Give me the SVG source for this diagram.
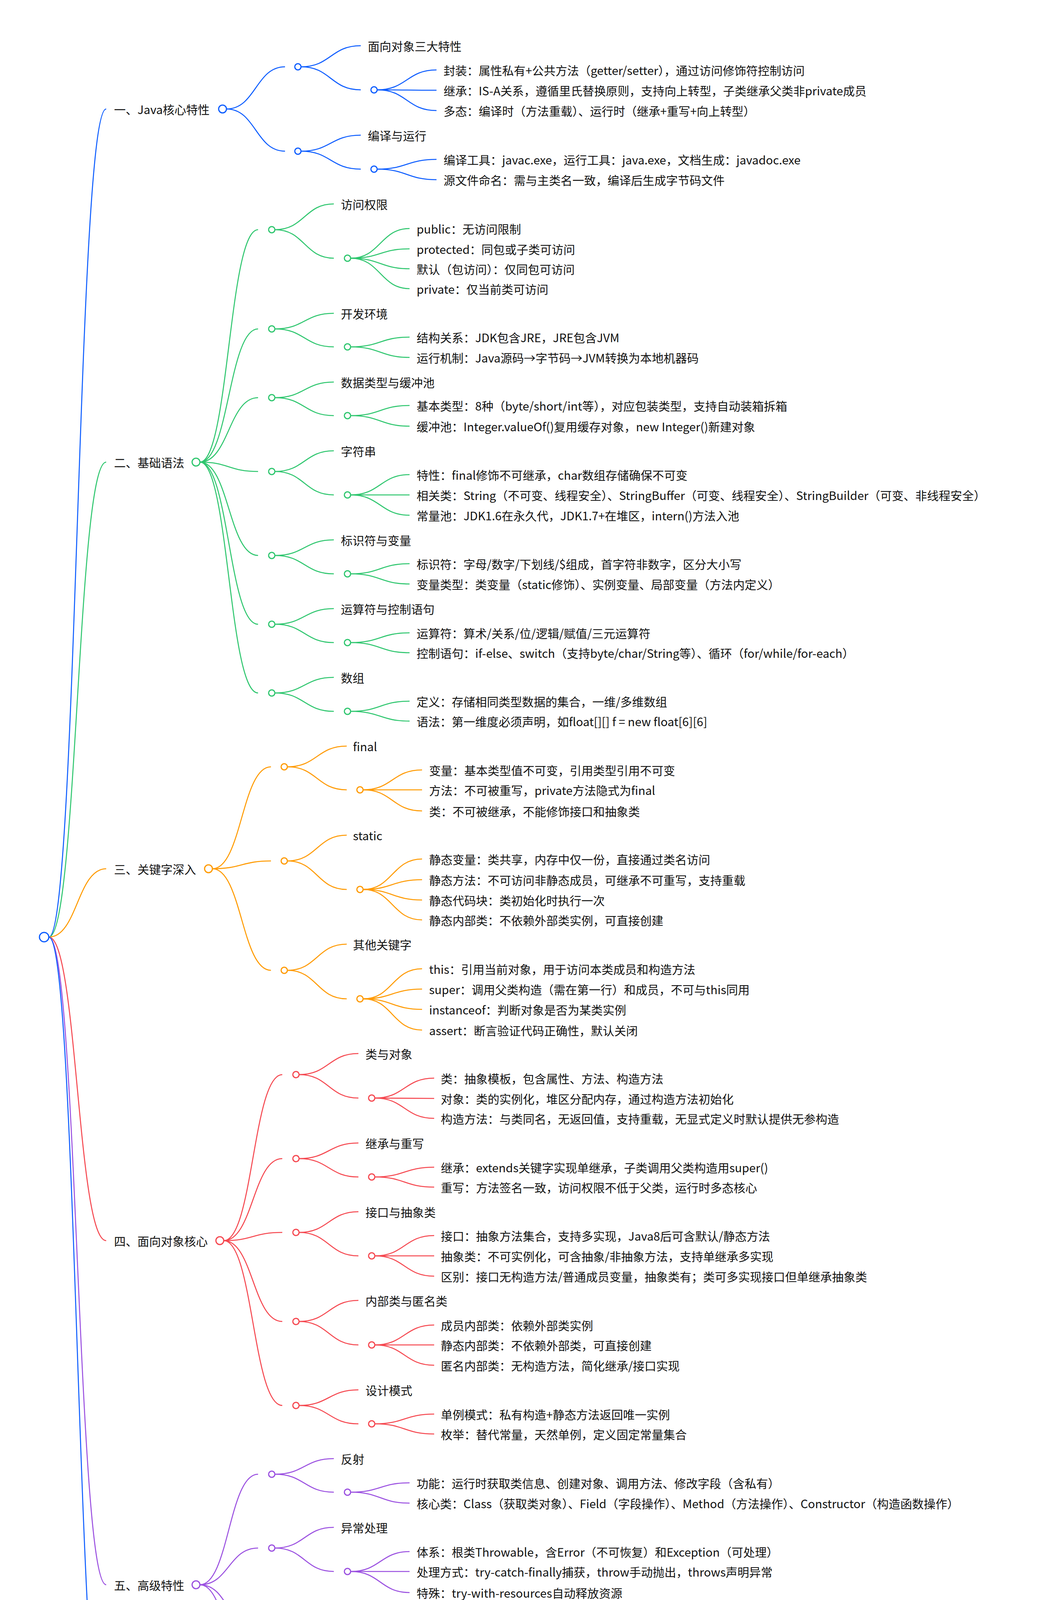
<svg xmlns="http://www.w3.org/2000/svg" width="2720" height="4866" viewBox="0 0 2720 4866">
<style>
text{font-family:"Noto Sans CJK SC","Noto Sans",sans-serif;font-size:30px;fill:#111;dominant-baseline:central}
path{fill:none;stroke-width:2.6}
circle{fill:#fff;stroke-width:3}
.cb{stroke:#0b5cff}.cg{stroke:#2ec66e}.co{stroke:#ff9a00}.cr{stroke:#f5474f}.cp{stroke:#9a4fe0}
</style>
<rect width="2720" height="4866" fill="#fff"/>
<g id="connectors">
<!-- root -->
<path class="cb" d="M125 2399 C198 2399 198 279 272 279"/>
<path class="cg" d="M125 2399 C198 2399 198 1183 272 1183"/>
<path class="co" d="M125 2399 C198 2399 198 2224 272 2224"/>
<path class="cr" d="M125 2399 C198 2399 198 3176 272 3176"/>
<path class="cp" d="M125 2399 C198 2399 198 4057 272 4057"/>
<path class="cb" d="M125 2399 C198 2399 198 4522 272 4522"/>
<!-- branch 1 -->
<path class="cb" d="M580 279 C655 279 655 171 730 171"/>
<path class="cb" d="M580 279 C655 279 655 387 730 387"/>
<path class="cb" d="M771 171 C847 171 847 117 924 117"/>
<path class="cb" d="M771 171 C847 171 847 230 924 230"/>
<path class="cb" d="M771 387 C847 387 847 346 924 346"/>
<path class="cb" d="M771 387 C847 387 847 433 924 433"/>
<path class="cb" d="M966 230 C1042 230 1042 179 1118 179"/>
<path class="cb" d="M966 230 C1042 230 1042 231 1118 231"/>
<path class="cb" d="M966 230 C1042 230 1042 283 1118 283"/>
<path class="cb" d="M966 433 C1042 433 1042 408 1118 408"/>
<path class="cb" d="M966 433 C1042 433 1042 460 1118 460"/>
<!-- branch 2 -->
<path class="cg" d="M512 1183 C586 1183 586 588 661 588"/>
<path class="cg" d="M512 1183 C586 1183 586 842 661 842"/>
<path class="cg" d="M512 1183 C586 1183 586 1018 661 1018"/>
<path class="cg" d="M512 1183 C586 1183 586 1207 661 1207"/>
<path class="cg" d="M512 1183 C586 1183 586 1422 661 1422"/>
<path class="cg" d="M512 1183 C586 1183 586 1598 661 1598"/>
<path class="cg" d="M512 1183 C586 1183 586 1774 661 1774"/>
<path class="cg" d="M704 588 C780 588 780 522 855 522"/><path class="cg" d="M704 588 C780 588 780 661 855 661"/>
<path class="cg" d="M704 842 C780 842 780 802 855 802"/><path class="cg" d="M704 842 C780 842 780 888 855 888"/>
<path class="cg" d="M704 1018 C780 1018 780 978 855 978"/><path class="cg" d="M704 1018 C780 1018 780 1064 855 1064"/>
<path class="cg" d="M704 1207 C780 1207 780 1154 855 1154"/><path class="cg" d="M704 1207 C780 1207 780 1267 855 1267"/>
<path class="cg" d="M704 1422 C780 1422 780 1382 855 1382"/><path class="cg" d="M704 1422 C780 1422 780 1469 855 1469"/>
<path class="cg" d="M704 1598 C780 1598 780 1558 855 1558"/><path class="cg" d="M704 1598 C780 1598 780 1645 855 1645"/>
<path class="cg" d="M704 1774 C780 1774 780 1734 855 1734"/><path class="cg" d="M704 1774 C780 1774 780 1821 855 1821"/>
<path class="cg" d="M898 661 C974 661 974 585 1049 585"/><path class="cg" d="M898 661 C974 661 974 637 1049 637"/><path class="cg" d="M898 661 C974 661 974 688 1049 688"/><path class="cg" d="M898 661 C974 661 974 739 1049 739"/>
<path class="cg" d="M898 888 C974 888 974 863 1049 863"/><path class="cg" d="M898 888 C974 888 974 915 1049 915"/>
<path class="cg" d="M898 1064 C974 1064 974 1038 1049 1038"/><path class="cg" d="M898 1064 C974 1064 974 1091 1049 1091"/>
<path class="cg" d="M898 1267 C974 1267 974 1215 1049 1215"/><path class="cg" d="M898 1267 L1049 1267"/><path class="cg" d="M898 1267 C974 1267 974 1319 1049 1319"/>
<path class="cg" d="M898 1469 C974 1469 974 1443 1049 1443"/><path class="cg" d="M898 1469 C974 1469 974 1495 1049 1495"/>
<path class="cg" d="M898 1645 C974 1645 974 1620 1049 1620"/><path class="cg" d="M898 1645 C974 1645 974 1671 1049 1671"/>
<path class="cg" d="M898 1821 C974 1821 974 1795 1049 1795"/><path class="cg" d="M898 1821 C974 1821 974 1846 1049 1846"/>
<!-- branch 3 -->
<path class="co" d="M544 2224 C619 2224 619 1963 694 1963"/>
<path class="co" d="M544 2224 C619 2224 619 2204 694 2204"/>
<path class="co" d="M544 2224 C619 2224 619 2484 694 2484"/>
<path class="co" d="M736 1963 C812 1963 812 1910 888 1910"/><path class="co" d="M736 1963 C812 1963 812 2022 888 2022"/>
<path class="co" d="M736 2204 C812 2204 812 2138 888 2138"/><path class="co" d="M736 2204 C812 2204 812 2277 888 2277"/>
<path class="co" d="M736 2484 C812 2484 812 2417 888 2417"/><path class="co" d="M736 2484 C812 2484 812 2557 888 2557"/>
<path class="co" d="M930 2022 C1005 2022 1005 1971 1081 1971"/><path class="co" d="M930 2022 L1081 2022"/><path class="co" d="M930 2022 C1005 2022 1005 2076 1081 2076"/>
<path class="co" d="M930 2277 C1005 2277 1005 2199 1081 2199"/><path class="co" d="M930 2277 C1005 2277 1005 2252 1081 2252"/><path class="co" d="M930 2277 C1005 2277 1005 2304 1081 2304"/><path class="co" d="M930 2277 C1005 2277 1005 2355 1081 2355"/>
<path class="co" d="M930 2557 C1005 2557 1005 2480 1081 2480"/><path class="co" d="M930 2557 C1005 2557 1005 2532 1081 2532"/><path class="co" d="M930 2557 C1005 2557 1005 2584 1081 2584"/><path class="co" d="M930 2557 C1005 2557 1005 2637 1081 2637"/>
<!-- branch 4 -->
<path class="cr" d="M573 3176 C648 3176 648 2751 723 2751"/>
<path class="cr" d="M573 3176 C648 3176 648 2966 723 2966"/>
<path class="cr" d="M573 3176 C648 3176 648 3155 723 3155"/>
<path class="cr" d="M573 3176 C648 3176 648 3383 723 3383"/>
<path class="cr" d="M573 3176 C648 3176 648 3598 723 3598"/>
<path class="cr" d="M766 2751 C842 2751 842 2697 918 2697"/><path class="cr" d="M766 2751 C842 2751 842 2811 918 2811"/>
<path class="cr" d="M766 2966 C842 2966 842 2926 918 2926"/><path class="cr" d="M766 2966 C842 2966 842 3013 918 3013"/>
<path class="cr" d="M766 3155 C842 3155 842 3102 918 3102"/><path class="cr" d="M766 3155 C842 3155 842 3215 918 3215"/>
<path class="cr" d="M766 3383 C842 3383 842 3329 918 3329"/><path class="cr" d="M766 3383 C842 3383 842 3443 918 3443"/>
<path class="cr" d="M766 3598 C842 3598 842 3558 918 3558"/><path class="cr" d="M766 3598 C842 3598 842 3645 918 3645"/>
<path class="cr" d="M960 2811 C1036 2811 1036 2760 1112 2760"/><path class="cr" d="M960 2811 L1112 2812"/><path class="cr" d="M960 2811 C1036 2811 1036 2863 1112 2863"/>
<path class="cr" d="M960 3013 C1036 3013 1036 2988 1112 2988"/><path class="cr" d="M960 3013 C1036 3013 1036 3039 1112 3039"/>
<path class="cr" d="M960 3215 C1036 3215 1036 3163 1112 3163"/><path class="cr" d="M960 3215 L1112 3215"/><path class="cr" d="M960 3215 C1036 3215 1036 3267 1112 3267"/>
<path class="cr" d="M960 3443 C1036 3443 1036 3392 1112 3392"/><path class="cr" d="M960 3443 L1112 3443"/><path class="cr" d="M960 3443 C1036 3443 1036 3495 1112 3495"/>
<path class="cr" d="M960 3645 C1036 3645 1036 3620 1112 3620"/><path class="cr" d="M960 3645 C1036 3645 1036 3671 1112 3671"/>
<!-- branch 5 -->
<path class="cp" d="M512 4057 C586 4057 586 3774 661 3774"/>
<path class="cp" d="M512 4057 C586 4057 586 3963 661 3963"/>
<path class="cp" d="M512 4057 C586 4057 586 4178 661 4178"/>
<path class="cp" d="M512 4057 C586 4057 586 4338 661 4338"/>
<path class="cp" d="M704 3774 C780 3774 780 3734 855 3734"/><path class="cp" d="M704 3774 C780 3774 780 3820 855 3820"/>
<path class="cp" d="M704 3963 C780 3963 780 3910 855 3910"/><path class="cp" d="M704 3963 C780 3963 780 4023 855 4023"/>
<path class="cp" d="M704 4178 C780 4178 780 4137 855 4137"/><path class="cp" d="M704 4178 C780 4178 780 4225 855 4225"/>
<path class="cp" d="M704 4338 C780 4338 780 4312 855 4312"/><path class="cp" d="M704 4338 C780 4338 780 4366 855 4366"/>
<path class="cp" d="M898 3820 C974 3820 974 3796 1049 3796"/><path class="cp" d="M898 3820 C974 3820 974 3848 1049 3848"/>
<path class="cp" d="M898 4023 C974 4023 974 3972 1049 3972"/><path class="cp" d="M898 4023 L1049 4023"/><path class="cp" d="M898 4023 C974 4023 974 4077 1049 4077"/>
<path class="cp" d="M898 4225 C974 4225 974 4200 1049 4200"/><path class="cp" d="M898 4225 C974 4225 974 4252 1049 4252"/>
<!-- branch 6 -->
<path class="cb" d="M642 4522 C716 4522 716 4428 791 4428"/>
<path class="cb" d="M642 4522 C716 4522 716 4619 791 4619"/>
<path class="cb" d="M834 4619 C910 4619 910 4490 985 4490"/><path class="cb" d="M834 4619 C910 4619 910 4542 985 4542"/><path class="cb" d="M834 4619 C910 4619 910 4594 985 4594"/><path class="cb" d="M834 4619 C910 4619 910 4646 985 4646"/><path class="cb" d="M834 4619 C910 4619 910 4698 985 4698"/><path class="cb" d="M834 4619 C910 4619 910 4750 985 4750"/>
</g>

<g id="root"><circle class="cb" cx="113" cy="2399" r="12"/></g>

<g id="b1">
<text x="292" y="279">一、Java核心特性</text><circle class="cb" cx="570" cy="279" r="10"/>
<circle class="cb" cx="763" cy="171" r="8"/><circle class="cb" cx="763" cy="387" r="8"/>
<circle class="cb" cx="958" cy="230" r="8"/><circle class="cb" cx="958" cy="433" r="8"/>
<text x="942" y="117">面向对象三大特性</text>
<text x="1136" y="179">封装：属性私有+公共方法（getter/setter），通过访问修饰符控制访问</text>
<text x="1136" y="231">继承：IS-A关系，遵循里氏替换原则，支持向上转型，子类继承父类非private成员</text>
<text x="1136" y="283">多态：编译时（方法重载）、运行时（继承+重写+向上转型）</text>
<text x="942" y="346">编译与运行</text>
<text x="1136" y="408">编译工具：javac.exe，运行工具：java.exe，文档生成：javadoc.exe</text>
<text x="1136" y="460">源文件命名：需与主类名一致，编译后生成字节码文件</text>
</g>

<g id="b2">
<text x="292" y="1183">二、基础语法</text><circle class="cg" cx="502" cy="1183" r="10"/>
<circle class="cg" cx="696" cy="588" r="8"/><circle class="cg" cx="696" cy="842" r="8"/><circle class="cg" cx="696" cy="1018" r="8"/><circle class="cg" cx="696" cy="1207" r="8"/><circle class="cg" cx="696" cy="1422" r="8"/><circle class="cg" cx="696" cy="1598" r="8"/><circle class="cg" cx="696" cy="1774" r="8"/>
<circle class="cg" cx="890" cy="661" r="8"/><circle class="cg" cx="890" cy="888" r="8"/><circle class="cg" cx="890" cy="1064" r="8"/><circle class="cg" cx="890" cy="1267" r="8"/><circle class="cg" cx="890" cy="1469" r="8"/><circle class="cg" cx="890" cy="1645" r="8"/><circle class="cg" cx="890" cy="1821" r="8"/>
<text x="873" y="522">访问权限</text>
<text x="1067" y="585">public：无访问限制</text>
<text x="1067" y="637">protected：同包或子类可访问</text>
<text x="1067" y="688">默认（包访问）：仅同包可访问</text>
<text x="1067" y="739">private：仅当前类可访问</text>
<text x="873" y="802">开发环境</text>
<text x="1067" y="863">结构关系：JDK包含JRE，JRE包含JVM</text>
<text x="1067" y="915">运行机制：Java源码→字节码→JVM转换为本地机器码</text>
<text x="873" y="978">数据类型与缓冲池</text>
<text x="1067" y="1038">基本类型：8种（byte/short/int等），对应包装类型，支持自动装箱拆箱</text>
<text x="1067" y="1091">缓冲池：Integer.valueOf()复用缓存对象，new Integer()新建对象</text>
<text x="873" y="1154">字符串</text>
<text x="1067" y="1215">特性：final修饰不可继承，char数组存储确保不可变</text>
<text x="1067" y="1267">相关类：String（不可变、线程安全）、StringBuffer（可变、线程安全）、StringBuilder（可变、非线程安全）</text>
<text x="1067" y="1319">常量池：JDK1.6在永久代，JDK1.7+在堆区，intern()方法入池</text>
<text x="873" y="1382">标识符与变量</text>
<text x="1067" y="1443">标识符：字母/数字/下划线/$组成，首字符非数字，区分大小写</text>
<text x="1067" y="1495">变量类型：类变量（static修饰）、实例变量、局部变量（方法内定义）</text>
<text x="873" y="1558">运算符与控制语句</text>
<text x="1067" y="1620">运算符：算术/关系/位/逻辑/赋值/三元运算符</text>
<text x="1067" y="1671">控制语句：if-else、switch（支持byte/char/String等）、循环（for/while/for-each）</text>
<text x="873" y="1734">数组</text>
<text x="1067" y="1795">定义：存储相同类型数据的集合，一维/多维数组</text>
<text x="1067" y="1846">语法：第一维度必须声明，如float[][] f = new float[6][6]</text>
</g>

<g id="b3">
<text x="292" y="2224">三、关键字深入</text><circle class="co" cx="534" cy="2224" r="10"/>
<circle class="co" cx="728" cy="1963" r="8"/><circle class="co" cx="728" cy="2204" r="8"/><circle class="co" cx="728" cy="2484" r="8"/>
<circle class="co" cx="922" cy="2022" r="8"/><circle class="co" cx="922" cy="2277" r="8"/><circle class="co" cx="922" cy="2557" r="8"/>
<text x="904" y="1910">final</text>
<text x="1099" y="1971">变量：基本类型值不可变，引用类型引用不可变</text>
<text x="1099" y="2022">方法：不可被重写，private方法隐式为final</text>
<text x="1099" y="2076">类：不可被继承，不能修饰接口和抽象类</text>
<text x="904" y="2138">static</text>
<text x="1099" y="2199">静态变量：类共享，内存中仅一份，直接通过类名访问</text>
<text x="1099" y="2252">静态方法：不可访问非静态成员，可继承不可重写，支持重载</text>
<text x="1099" y="2304">静态代码块：类初始化时执行一次</text>
<text x="1099" y="2355">静态内部类：不依赖外部类实例，可直接创建</text>
<text x="904" y="2417">其他关键字</text>
<text x="1099" y="2480">this：引用当前对象，用于访问本类成员和构造方法</text>
<text x="1099" y="2532">super：调用父类构造（需在第一行）和成员，不可与this同用</text>
<text x="1099" y="2584">instanceof：判断对象是否为某类实例</text>
<text x="1099" y="2637">assert：断言验证代码正确性，默认关闭</text>
</g>

<g id="b4">
<text x="292" y="3176">四、面向对象核心</text><circle class="cr" cx="563" cy="3176" r="10"/>
<circle class="cr" cx="758" cy="2751" r="8"/><circle class="cr" cx="758" cy="2966" r="8"/><circle class="cr" cx="758" cy="3155" r="8"/><circle class="cr" cx="758" cy="3383" r="8"/><circle class="cr" cx="758" cy="3598" r="8"/>
<circle class="cr" cx="952" cy="2811" r="8"/><circle class="cr" cx="952" cy="3013" r="8"/><circle class="cr" cx="952" cy="3215" r="8"/><circle class="cr" cx="952" cy="3443" r="8"/><circle class="cr" cx="952" cy="3645" r="8"/>
<text x="936" y="2697">类与对象</text>
<text x="1129" y="2760">类：抽象模板，包含属性、方法、构造方法</text>
<text x="1129" y="2812">对象：类的实例化，堆区分配内存，通过构造方法初始化</text>
<text x="1129" y="2863">构造方法：与类同名，无返回值，支持重载，无显式定义时默认提供无参构造</text>
<text x="936" y="2926">继承与重写</text>
<text x="1129" y="2988">继承：extends关键字实现单继承，子类调用父类构造用super()</text>
<text x="1129" y="3039">重写：方法签名一致，访问权限不低于父类，运行时多态核心</text>
<text x="936" y="3102">接口与抽象类</text>
<text x="1129" y="3163">接口：抽象方法集合，支持多实现，Java8后可含默认/静态方法</text>
<text x="1129" y="3215">抽象类：不可实例化，可含抽象/非抽象方法，支持单继承多实现</text>
<text x="1129" y="3267">区别：接口无构造方法/普通成员变量，抽象类有；类可多实现接口但单继承抽象类</text>
<text x="936" y="3329">内部类与匿名类</text>
<text x="1129" y="3392">成员内部类：依赖外部类实例</text>
<text x="1129" y="3443">静态内部类：不依赖外部类，可直接创建</text>
<text x="1129" y="3495">匿名内部类：无构造方法，简化继承/接口实现</text>
<text x="936" y="3558">设计模式</text>
<text x="1129" y="3620">单例模式：私有构造+静态方法返回唯一实例</text>
<text x="1129" y="3671">枚举：替代常量，天然单例，定义固定常量集合</text>
</g>

<g id="b5">
<text x="292" y="4057">五、高级特性</text><circle class="cp" cx="502" cy="4057" r="10"/>
<circle class="cp" cx="696" cy="3774" r="8"/><circle class="cp" cx="696" cy="3963" r="8"/><circle class="cp" cx="696" cy="4178" r="8"/><circle class="cp" cx="696" cy="4338" r="8"/>
<circle class="cp" cx="890" cy="3820" r="8"/><circle class="cp" cx="890" cy="4023" r="8"/><circle class="cp" cx="890" cy="4225" r="8"/>
<text x="873" y="3734">反射</text>
<text x="1067" y="3796">功能：运行时获取类信息、创建对象、调用方法、修改字段（含私有）</text>
<text x="1067" y="3848">核心类：Class（获取类对象）、Field（字段操作）、Method（方法操作）、Constructor（构造函数操作）</text>
<text x="873" y="3910">异常处理</text>
<text x="1067" y="3972">体系：根类Throwable，含Error（不可恢复）和Exception（可处理）</text>
<text x="1067" y="4023">处理方式：try-catch-finally捕获，throw手动抛出，throws声明异常</text>
<text x="1067" y="4077">特殊：try-with-resources自动释放资源</text>
<text x="873" y="4137">包与导入</text>
<text x="1067" y="4200">包：命名空间，避免命名冲突，分类管理类</text>
<text x="1067" y="4252">导入：import关键字导入包成员，静态导包简化静态成员调用</text>
<text x="873" y="4312">注解</text>
<text x="873" y="4366">元数据：提供程序附加信息，不影响程序运行，如@Override、@NonNull</text>
</g>

<g id="b6">
<text x="292" y="4522">六、Object类通用方法</text><circle class="cb" cx="632" cy="4522" r="10"/>
<circle class="cb" cx="826" cy="4619" r="8"/>
<text x="809" y="4428">核心方法</text>
<text x="1003" y="4490">equals()：默认比较引用，重写需遵循自反/对称/传递/一致性，需同步重写hashCode()</text>
<text x="1003" y="4542">hashCode()：返回散列值，等价对象散列值必相同</text>
<text x="1003" y="4594">toString()：默认返回类名+哈希码，重写可提供有意义描述</text>
<text x="1003" y="4646">wait()/notify()/notifyAll()：线程间通信</text>
<text x="1003" y="4698">clone()：创建对象副本，默认浅拷贝</text>
<text x="1003" y="4750">finalize()：垃圾回收前调用，Java9后过时</text>
</g>
</svg>
